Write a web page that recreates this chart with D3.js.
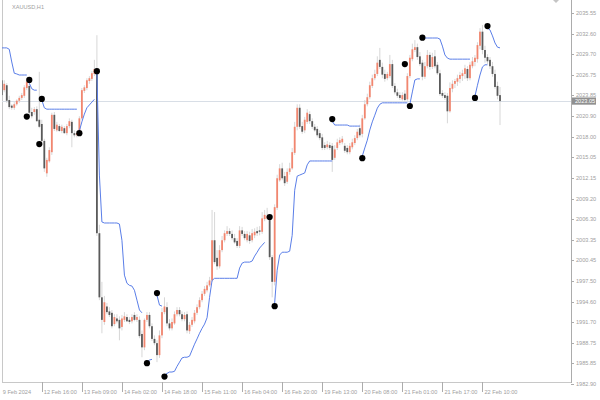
<!DOCTYPE html>
<html><head><meta charset="utf-8">
<script src="https://cdn.jsdelivr.net/npm/d3@7"></script>
<style>
body{margin:0;background:#fff}
svg{display:block}
text{font-family:"Liberation Sans",Arial,sans-serif}
</style>
</head><body>
<svg id="chart" width="600" height="400"></svg>
<script>
// ---------------- data ----------------
const symbolTitle = "XAUUSD,H1";
const firstDateLabel = "9 Feb 2024";
const timeLabels = ["12 Feb 16:00","13 Feb 09:00","14 Feb 02:00","14 Feb 18:00","15 Feb 11:00","16 Feb 04:00","16 Feb 20:00","19 Feb 13:00","20 Feb 08:00","21 Feb 01:00","21 Feb 17:00","22 Feb 10:00"];
const timeLabelBars = [16,32,48,64,80,96,112,128,144,160,176,192];
const priceTicks = [2035.55,2032.60,2029.70,2026.75,2023.85,2020.90,2018.00,2015.05,2012.15,2009.20,2006.30,2003.35,2000.45,1997.50,1994.60,1991.70,1988.75,1985.85,1982.90];
const bidPrice = 2023.05;

const opens = [
2026.0,2024.6,2025.3,2023.2,2022.4,2022.1,2022.6,2023.1,2023.5,2023.8,
2024.9,2025.2,2021.5,2021.5,2021.9,2020.4,2019.8,2017.4,2012.8,2014.5,
2015.8,2021.1,2018.9,2019.5,2018.8,2019.2,2018.5,2019.5,2020.1,2018.5,
2018.2,2018.4,2020.6,2024.5,2024.9,2025.9,2026.2,2026.9,2027.6,2004.3,
1995.2,1991.7,1993.9,1993.2,1993.0,1991.4,1992.2,1992.0,1991.0,1992.0,
1992.4,1992.0,1991.8,1992.7,1992.0,1992.0,1990.0,1988.1,1992.0,1992.7,
1991.1,1989.3,1988.7,1987.0,1989.8,1993.1,1993.8,1991.5,1990.8,1991.5,
1992.8,1993.4,1992.8,1992.1,1992.8,1990.4,1991.3,1991.8,1993.0,1993.8,
1994.8,1995.7,1996.2,1996.9,1997.6,2003.3,2000.8,1999.6,2001.9,2003.3,
2004.2,2004.6,2004.2,2003.6,2003.2,2002.5,2004.7,2004.2,2003.3,2004.0,
2003.3,2004.0,2004.6,2004.7,2004.5,2006.3,2006.4,2006.7,2000.9,1997.4,
2007.9,2011.8,2013.5,2012.4,2011.6,2013.0,2013.5,2015.7,2019.4,2022.1,
2019.5,2018.9,2020.1,2021.2,2020.2,2019.4,2019.1,2018.5,2017.9,2016.8,
2016.5,2016.8,2016.7,2015.0,2016.4,2017.1,2017.2,2016.7,2016.4,2015.8,
2016.5,2017.1,2017.8,2019.2,2018.4,2020.6,2022.6,2023.6,2025.2,2026.3,
2026.9,2028.9,2027.9,2026.9,2026.3,2026.6,2028.3,2025.2,2024.3,2023.9,
2023.3,2024.1,2023.3,2026.6,2029.0,2030.3,2030.7,2029.4,2028.5,2026.5,
2028.0,2029.6,2027.9,2029.4,2028.2,2027.0,2024.2,2023.9,2023.8,2021.6,
2024.8,2025.5,2025.8,2026.2,2026.6,2026.9,2027.6,2026.3,2028.0,2028.6,
2029.0,2030.9,2032.9,2030.3,2029.3,2028.9,2028.0,2026.9,2025.2,2023.9];

const highs = [
2026.5,2026.0,2025.6,2023.8,2022.6,2022.9,2023.3,2023.8,2024.2,2025.3,
2026.3,2025.9,2022.1,2022.2,2022.3,2027.2,2020.4,2017.7,2015.0,2016.5,
2021.4,2021.5,2020.1,2019.8,2019.7,2019.5,2019.8,2020.6,2020.4,2018.9,
2018.8,2020.9,2024.9,2025.3,2026.3,2026.6,2027.3,2028.9,2032.4,2005.5,
1997.4,1995.4,1994.4,1993.8,1993.4,1992.8,1992.8,1992.5,1992.7,1993.1,
1992.8,1992.4,1992.8,1993.1,1992.8,1992.5,1990.5,1992.2,1993.1,1993.1,
1991.5,1989.8,1989.1,1990.5,1993.7,1995.2,1994.5,1992.1,1992.2,1993.2,
1993.8,1993.8,1993.2,1993.1,1993.2,1991.7,1992.4,1993.4,1994.2,1995.2,
1996.1,1996.8,1997.4,1998.1,2007.6,2007.3,2001.9,2002.6,2003.9,2004.7,
2005.3,2005.0,2004.7,2004.2,2003.6,2005.3,2005.2,2004.6,2004.6,2004.5,
2004.9,2005.0,2005.2,2005.3,2007.3,2007.6,2007.9,2007.0,2001.2,2008.4,
2012.6,2014.1,2014.3,2013.0,2013.5,2014.3,2016.4,2020.1,2022.6,2022.6,
2020.1,2020.8,2021.9,2021.6,2020.6,2019.8,2019.5,2018.9,2018.4,2017.2,
2017.4,2017.2,2017.1,2016.8,2017.7,2017.9,2018.1,2017.1,2016.8,2017.1,
2017.7,2018.2,2019.1,2019.7,2021.1,2023.2,2024.1,2025.8,2026.8,2027.5,
2029.4,2030.6,2028.5,2027.5,2027.2,2029.6,2028.9,2025.6,2024.8,2024.3,
2024.3,2024.6,2027.0,2029.6,2031.2,2031.7,2031.2,2030.0,2028.9,2028.6,
2030.3,2030.0,2029.9,2030.3,2028.6,2027.5,2024.6,2024.3,2024.2,2025.7,
2026.0,2026.2,2026.8,2027.2,2027.5,2028.2,2028.0,2028.6,2029.3,2029.6,
2031.4,2033.4,2033.85,2030.9,2029.7,2029.3,2028.6,2027.5,2025.8,2025.05];

const lows = [
2023.6,2024.3,2022.8,2021.9,2021.8,2021.8,2022.4,2022.8,2023.2,2023.5,
2024.6,2021.1,2020.6,2021.1,2020.1,2019.2,2017.1,2013.0,2012.3,2014.3,
2015.4,2018.8,2018.7,2018.7,2018.5,2018.4,2018.2,2019.2,2016.5,2017.9,
2017.9,2018.2,2020.4,2024.2,2024.6,2025.5,2025.9,2026.6,2003.9,1994.8,
1990.1,1991.3,1992.8,1992.4,1990.8,1991.1,1991.5,1989.1,1990.5,1991.7,
1991.7,1991.4,1991.5,1991.8,1991.7,1989.4,1986.7,1987.7,1991.7,1990.8,
1989.0,1988.4,1986.0,1986.6,1989.4,1992.8,1991.1,1990.5,1990.5,1991.3,
1992.5,1992.5,1991.8,1991.8,1990.1,1990.0,1991.0,1991.5,1992.7,1993.5,
1994.5,1995.4,1995.9,1996.7,1997.4,1999.9,1999.1,1999.3,2001.6,2003.0,
2003.9,2003.9,2003.3,2002.8,2002.2,2002.2,2003.9,2003.3,2003.0,2002.8,
2003.0,2003.6,2003.9,2004.0,2004.2,2006.0,2006.2,2000.5,1995.2,1996.9,
2007.6,2011.6,2011.8,2011.0,2011.3,2012.6,2013.3,2015.4,2018.9,2019.1,
2018.4,2018.5,2019.8,2019.8,2019.1,2018.7,2017.9,2017.5,2016.1,2016.1,
2016.2,2016.1,2013.0,2014.7,2016.1,2016.8,2016.9,2015.7,2015.5,2015.5,
2016.2,2016.8,2017.5,2017.9,2017.9,2020.4,2022.3,2023.3,2024.9,2026.0,
2026.6,2027.6,2026.3,2025.8,2026.0,2026.3,2024.9,2024.0,2023.5,2023.2,
2023.1,2022.9,2023.1,2026.3,2028.7,2030.0,2028.9,2028.0,2026.0,2026.2,
2027.7,2027.5,2027.6,2027.7,2026.75,2023.8,2023.5,2023.2,2019.9,2021.4,
2024.3,2024.9,2025.2,2025.6,2025.9,2026.2,2025.9,2026.0,2027.7,2028.0,
2028.5,2030.4,2029.7,2028.5,2028.3,2027.6,2026.5,2024.8,2023.3,2019.65];

const closes = [
2023.9,2025.5,2023.1,2022.2,2022.1,2022.6,2023.1,2023.5,2023.9,2025.0,
2025.8,2021.4,2020.9,2021.9,2020.2,2019.4,2017.4,2013.5,2014.7,2016.1,
2021.1,2019.1,2019.7,2018.8,2019.4,2018.5,2019.5,2020.2,2018.5,2018.2,
2018.5,2020.6,2024.6,2025.0,2026.0,2026.3,2027.0,2027.6,2004.3,1995.2,
1992.0,1994.5,1993.1,1992.7,1991.1,1992.4,1991.8,1990.8,1992.2,1992.5,
1991.8,1991.7,1992.4,1992.0,1992.4,1989.7,1988.1,1992.0,1992.7,1991.1,
1989.3,1988.7,1987.0,1989.8,1993.1,1993.9,1991.5,1990.8,1991.7,1992.8,
1993.4,1992.8,1992.1,1992.7,1990.5,1991.3,1992.0,1993.0,1993.8,1994.8,
1995.7,1996.4,1996.9,1997.6,2003.3,2000.2,1999.6,2001.9,2003.3,2004.3,
2004.6,2004.2,2003.6,2003.0,2002.5,2004.7,2004.2,2003.6,2004.2,2003.2,
2004.3,2004.5,2004.3,2004.5,2006.4,2006.9,2006.7,2000.9,1997.4,2008.0,
2012.1,2013.5,2012.1,2011.4,2013.0,2013.5,2015.8,2019.4,2022.1,2019.4,
2018.7,2020.4,2021.4,2020.2,2019.4,2018.9,2018.2,2017.8,2016.4,2016.4,
2016.9,2016.4,2014.7,2016.2,2017.2,2017.5,2017.7,2016.0,2015.8,2016.7,
2017.2,2017.8,2018.7,2018.2,2020.6,2022.6,2023.6,2025.3,2026.3,2026.9,
2028.5,2027.9,2026.8,2026.2,2026.9,2028.3,2025.2,2024.3,2023.8,2023.5,
2023.9,2023.2,2026.6,2029.2,2030.4,2030.7,2029.3,2028.3,2026.5,2028.0,
2029.6,2027.9,2029.3,2028.0,2027.0,2024.05,2023.8,2023.5,2021.6,2024.9,
2025.5,2025.9,2026.3,2026.75,2027.0,2027.7,2026.3,2028.2,2028.7,2029.2,
2031.0,2032.9,2030.3,2029.2,2028.7,2028.0,2026.9,2025.05,2023.8,2023.05];

// trailing-stop indicator: each segment starts at a bar and lists one value per bar
const stopStarts = [0, 11, 16, 31, 38, 58, 62, 65, 109, 132, 144, 163, 168, 189, 194];
const stopValues = [
 [2030.6,2030.6,2030.6,2030.4,2028.6,2027.0,2026.9,2026.75,2026.75,2026.75,2026.75],
 [2025.6,2024.8,2024.6,2024.6],
 [2023.2,2022.1,2021.9,2021.9,2021.9,2021.9,2021.9,2021.9,2021.9,2021.9,2021.9,2021.9,2021.9,2021.9,2021.9],
 [2018.8,2020.1,2021.2,2022.1,2022.5,2022.9,2023.3],
 [2027.2,2012.55,2005.9,2005.75,2005.75,2005.75,2005.75,2005.75,2005.75,2005.6,2003.3,1998.35,1997.2,1996.9,1996.8,1996.2,1994.8,1993.4,1993.0],
 [1986.0,1986.3,1986.4],
 [1995.5,1994.1,1993.95],
 [1984.15,1984.4,1984.6,1984.6,1984.7,1985.4,1986.0,1986.6,1986.7,1986.7,
  1986.85,1987.7,1988.55,1989.3,1990.1,1990.8,1991.4,1992.3,1995.2,1997.6,
  1997.9,1997.9,1997.9,1997.9,1997.9,1997.9,1997.9,1997.9,1997.9,1997.9,
  1999.35,2000.05,2000.2,2000.2,2000.2,2000.35,2001.05,2001.6,2002.2,2002.6,2003.0],
 [1994.4,1999.05,2001.2,2001.6,2001.6,2001.6,2001.75,2004.0,2010.4,2012.4,2012.55,2012.7,2012.85,2014.0,2014.55,
  2014.55,2014.55,2014.55,2014.55,2014.55,2014.55,2014.55,2014.55,2014.55],
 [2020.2,2019.65,2019.65,2019.65,2019.65,2019.65,2019.65,2019.5,2019.5,2019.5,2019.5,2019.5],
 [2015.25,2016.4,2017.5,2018.95,2020.1,2021.05,2022.05,2022.6,2022.8,2022.8,2022.8,2022.8,2022.8,2022.8,2022.8,2022.8,2022.8,2022.8,2022.8],
 [2022.6,2024.35,2026.05,2026.2,2026.2],
 [2032.0,2032.0,2032.0,2032.0,2032.0,2032.0,2032.0,2031.85,2030.85,2029.6,2029.15,
  2029.0,2029.0,2029.0,2029.0,2029.0,2029.0,2029.0,2029.0,2029.0],
 [2023.75,2025.3,2026.75,2027.9,2028.2,2028.2],
 [2033.4,2033.15,2032.3,2031.3,2030.7,2030.6]
];

// swing markers
const dotBars  = [10, 11, 15, 16, 31, 38, 58, 62, 65, 107, 109, 132, 144, 161, 163, 168, 189, 194];
const dotPrices = [2020.85,2026.05,2016.95,2023.35,2018.5,2027.3,1985.85,1995.8,1983.95,2006.6,1993.95,2020.5,2014.95,2028.3,2022.35,2032.05,2023.5,2033.7];

// ---------------- drawing ----------------
const svg = d3.select("#chart");
const W = 600, H = 400;
const plot = {left: 2, right: 571, top: 0, bottom: 382};
const bullColor = "#f2866f", bearColor = "#5a5a5a", wickColor = "#d2d2d2";
const lineColor = "#5a7ee8", textColor = "#a0a0a0", axisColor = "#acacac";

svg.append("rect").attr("width", W).attr("height", H).attr("fill", "#fff");

const x = d3.scaleLinear().domain([0, closes.length - 1]).range([1.75, 500]);
const y = d3.scaleLinear().domain([1982.90, 2035.55]).range([384, 13]);

svg.append("defs").append("clipPath").attr("id", "clip")
  .append("rect").attr("x", plot.left).attr("y", plot.top)
  .attr("width", plot.right - plot.left).attr("height", plot.bottom - plot.top);

// frame
svg.append("line").attr("x1", plot.left + 0.5).attr("x2", plot.left + 0.5)
  .attr("y1", 0).attr("y2", plot.bottom).attr("stroke", "#c8c8c8");
svg.append("line").attr("x1", plot.left).attr("x2", plot.right)
  .attr("y1", plot.bottom + 0.5).attr("y2", plot.bottom + 0.5).attr("stroke", "#c8c8c8");

const g = svg.append("g").attr("clip-path", "url(#clip)");

// bid line
g.append("line").attr("x1", plot.left).attr("x2", plot.right)
  .attr("y1", Math.round(y(bidPrice)) + 0.5).attr("y2", Math.round(y(bidPrice)) + 0.5)
  .attr("stroke", "#d8dee6").attr("stroke-width", 1);

const bars = d3.range(closes.length);

// wicks
g.append("g").selectAll("line").data(bars).join("line")
  .attr("x1", i => x(i)).attr("x2", i => x(i))
  .attr("y1", i => y(highs[i])).attr("y2", i => y(lows[i]))
  .attr("stroke", wickColor).attr("stroke-width", 0.9);

// bodies
const bw = 1.8;
g.append("g").selectAll("rect").data(bars).join("rect")
  .attr("x", i => x(i) - bw / 2)
  .attr("width", bw)
  .attr("y", i => y(Math.max(opens[i], closes[i])))
  .attr("height", i => Math.max(1, Math.abs(y(opens[i]) - y(closes[i]))))
  .attr("fill", i => closes[i] >= opens[i] ? bullColor : bearColor);

// indicator line segments
const lineGen = d3.line().x(d => x(d[0])).y(d => y(d[1]));
stopStarts.forEach((s, k) => {
  const pts = stopValues[k].map((v, j) => [s + j, v]);
  g.append("path").attr("d", lineGen(pts)).attr("fill", "none")
    .attr("stroke", lineColor).attr("stroke-width", 1);
});

// dots
g.append("g").selectAll("circle").data(dotBars.map((b, k) => [b, dotPrices[k]])).join("circle")
  .attr("cx", d => x(d[0])).attr("cy", d => y(d[1])).attr("r", 3.1).attr("fill", "#000");

// title
svg.append("text").attr("x", 12).attr("y", 8.5).attr("font-size", 5.6)
  .attr("fill", textColor).text(symbolTitle);

// price axis
svg.append("line").attr("x1", plot.right + 0.5).attr("x2", plot.right + 0.5)
  .attr("y1", 0).attr("y2", plot.bottom + 1).attr("stroke", axisColor);
const ya = svg.append("g");
ya.selectAll("line").data(priceTicks).join("line")
  .attr("x1", plot.right).attr("x2", plot.right + 3)
  .attr("y1", d => Math.round(y(d)) + 0.5).attr("y2", d => Math.round(y(d)) + 0.5)
  .attr("stroke", axisColor);
ya.selectAll("text").data(priceTicks).join("text")
  .attr("x", plot.right + 5).attr("y", d => y(d)).attr("dy", "0.35em")
  .attr("font-size", 5.6).attr("fill", textColor)
  .text(d => d.toFixed(2));

// bid price tag
const by = y(bidPrice);
svg.append("rect").attr("x", plot.right + 1).attr("y", by - 3.6).attr("width", 24).attr("height", 7.2)
  .attr("fill", "#909090");
svg.append("text").attr("x", plot.right + 4).attr("y", by).attr("dy", "0.35em")
  .attr("font-size", 5.6).attr("fill", "#fff").text(bidPrice.toFixed(2));

// shift marker
svg.append("path").attr("d", "M553,0 L559,0 L556,3 Z").attr("fill", "#c4c4c4");

// time axis
const xa = svg.append("g");
xa.append("text").attr("x", x(0) + 1).attr("y", 394).attr("font-size", 5.6)
  .attr("fill", textColor).text(firstDateLabel);
xa.selectAll("line").data(timeLabelBars).join("line")
  .attr("x1", i => Math.round(x(i)) + 0.5).attr("x2", i => Math.round(x(i)) + 0.5)
  .attr("y1", plot.bottom).attr("y2", 392).attr("stroke", axisColor);
xa.selectAll("text.t").data(timeLabelBars).join("text").attr("class", "t")
  .attr("x", i => x(i) + 2).attr("y", 394).attr("font-size", 5.6)
  .attr("fill", textColor).text((i, k) => timeLabels[k]);
</script>
</body></html>
